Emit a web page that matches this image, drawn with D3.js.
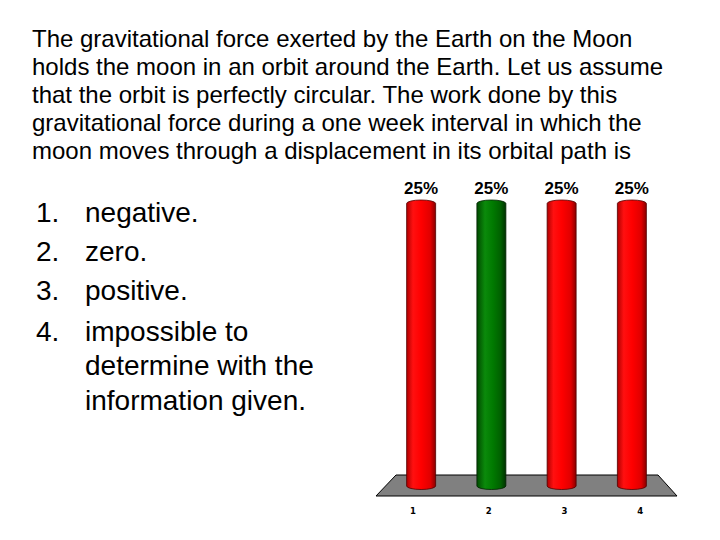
<!DOCTYPE HTML>
<html>
  <head>
    <style>
	body { margin: 0; background: #fff; }
	svg { display: block; }
	</style>
  </head>
  <body>

	<script type="text/javascript" src="https://d3js.org/d3.v7.min.js"></script>

    <script>

		// *** DATA ***

		var questionLines = [
			'The gravitational force exerted by the Earth on the Moon',
			'holds the moon in an orbit around the Earth. Let us assume',
			'that the orbit is perfectly circular. The work done by this',
			'gravitational force during a one week interval in which the',
			'moon moves through a displacement in its orbital path is'
		];
		var answerNums = ['1.', '2.', '3.', '4.'];
		var answerLines = [
			['negative.'],
			['zero.'],
			['positive.'],
			['impossible to', 'determine with the', 'information given.']
		];
		var categories = ['1', '2', '3', '4'];
		var percents = [25, 25, 25, 25];
		var correctAnswer = '2';

		// *** SETUP ***

		var W = 720, H = 540;
		var svg = d3.select('body').append('svg')
			.attr('width', W)
			.attr('height', H);

		// Gradients for the cylinders
		var defs = svg.append('defs');
		function addGradient(id, stops){
			var g = defs.append('linearGradient')
				.attr('id', id)
				.attr('x1', '0%').attr('x2', '100%')
				.attr('y1', '0%').attr('y2', '0%');
			stops.forEach(function(s){
				g.append('stop').attr('offset', s[0]).attr('stop-color', s[1]);
			});
		}
		addGradient('g_red', [['0%', '#b00000'], ['22%', '#ff1010'], ['50%', '#ff0000'], ['82%', '#e00000'], ['100%', '#8a0000']]);
		addGradient('g_green', [['0%', '#004a00'], ['28%', '#0b8a0b'], ['55%', '#007a00'], ['82%', '#006000'], ['100%', '#003300']]);

		// *** QUESTION TEXT ***

		svg.append('g').selectAll('text').data(questionLines)
			.enter().append('text')
			.attr('x', 32)
			.attr('y', function(d, i){ return 46.5 + i*28; })
			.style('font-family', '"Liberation Sans", Arial, sans-serif')
			.style('font-size', '24px')
			.style('fill', '#000')
			.text(function(d){ return d; });

		// *** ANSWERS LIST ***

		var itemBase = [222, 261, 300, 340.5];
		var gList = svg.append('g')
			.style('font-family', '"Liberation Sans", Arial, sans-serif')
			.style('font-size', '28px')
			.style('fill', '#000');

		answerNums.forEach(function(n, i){
			gList.append('text')
				.attr('x', 36)
				.attr('y', itemBase[i])
				.text(n);
			answerLines[i].forEach(function(line, j){
				gList.append('text')
					.attr('x', 85)
					.attr('y', itemBase[i] + j*34.5)
					.text(line);
			});
		});

		// *** CHART ***

		var barW = 29, capRy = 3.5;
		var floorTop = 475, floorBot = 496;

		var x = d3.scalePoint().domain(categories).range([386, 667]).padding(0.5);
		var xFront = d3.scalePoint().domain(categories).range([375, 678]).padding(0.5);
		var y = d3.scaleLinear().domain([0, d3.max(percents)]).range([486, 203.5]);

		// Floor
		var fx0 = xFront.range()[0], fx1 = xFront.range()[1];
		svg.append('polygon')
			.attr('points', [
				[fx0 + 21, floorTop], [fx1 - 20, floorTop],
				[fx1 - 1, floorBot], [fx0 + 1, floorBot]
			].map(function(p){ return p.join(','); }).join(' '))
			.style('fill', '#808080')
			.style('stroke', '#000')
			.style('stroke-width', 1);

		// Cylinders
		function cylinderPath(cx, yTop, yBot){
			var x0 = cx - barW/2, x1 = cx + barW/2, rx = barW/2;
			return 'M' + x0 + ',' + yTop +
				' L' + x0 + ',' + yBot +
				' A' + rx + ',' + capRy + ' 0 0 0 ' + x1 + ',' + yBot +
				' L' + x1 + ',' + yTop +
				' A' + rx + ',' + capRy + ' 0 0 0 ' + x0 + ',' + yTop + ' Z';
		}

		svg.append('g').selectAll('path').data(categories)
			.enter().append('path')
			.attr('d', function(d, i){ return cylinderPath(x(d), y(percents[i]), y(0)); })
			.style('fill', function(d){ return d === correctAnswer ? 'url(#g_green)' : 'url(#g_red)'; })
			.style('stroke', function(d){ return d === correctAnswer ? '#002200' : '#500000'; })
			.style('stroke-width', 0.8);

		// Percent labels
		svg.append('g').selectAll('text').data(categories)
			.enter().append('text')
			.attr('x', function(d){ return x(d); })
			.attr('y', 194)
			.attr('text-anchor', 'middle')
			.style('font-family', '"Liberation Sans", Arial, sans-serif')
			.style('font-weight', 'bold')
			.style('font-size', '17px')
			.style('fill', '#000')
			.text(function(d, i){ return percents[i] + '%'; });

		// Category labels
		svg.append('g').selectAll('text').data(categories)
			.enter().append('text')
			.attr('x', function(d){ return xFront(d); })
			.attr('y', 514)
			.attr('text-anchor', 'middle')
			.style('font-family', '"DejaVu Sans", sans-serif')
			.style('font-weight', 'bold')
			.style('font-size', '8.5px')
			.style('fill', '#000')
			.text(function(d){ return d; });

	</script>
  </body>
</html>
